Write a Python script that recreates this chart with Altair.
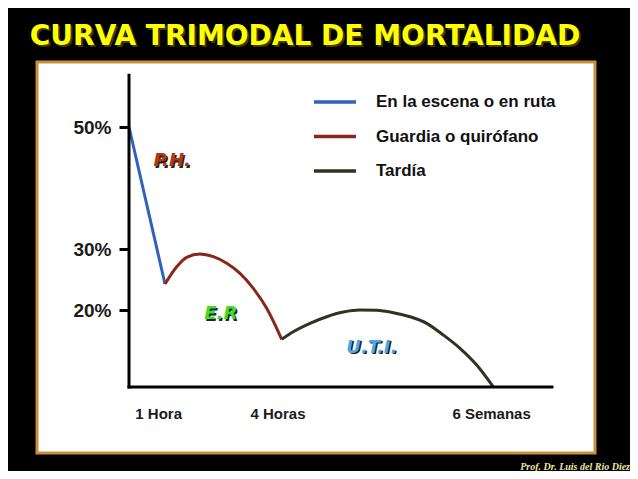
import altair as alt
import pandas as pd

TITLE = "CURVA TRIMODAL DE MORTALIDAD"
FOOTER = "Prof. Dr. Luis del Rio Diez"

SERIES = ["En la escena o en ruta", "Guardia o quirófano", "Tardía"]
SERIES_COLORS = ["#2f62b8", "#86281a", "#2f3320"]

# curve points: x in time units (axis runs 0..100), y in % mortality
BLUE_X = [0.0, 8.51]
BLUE_Y = [50.0, 24.26]
RED_X = [8.51, 11.28, 13.64, 16.78, 19.93, 23.10, 26.24, 29.39, 32.55, 36.10]
RED_Y = [24.26, 27.10, 28.64, 29.18, 28.74, 27.66, 26.02, 23.56, 20.28, 15.20]
DARK_X = [36.10, 38.84, 42.79, 46.74, 50.66, 54.61, 58.56, 62.48, 66.43,
          70.38, 74.30, 78.25, 82.20, 86.12]
DARK_Y = [15.20, 16.44, 17.82, 18.90, 19.67, 20.00, 19.95, 19.56, 18.90,
          17.82, 15.90, 13.72, 10.98, 7.40]

Y_TICKS = [20, 30, 50]
X_TICKS = [6.9, 35.1, 85.6]
X_TICK_LABELS = ["1 Hora", "4 Horas", "6 Semanas"]

PHASES = ["P.H.", "E.R", "U.T.I."]
PHASE_X = [10.2, 21.7, 57.4]
PHASE_Y = [44.4, 19.3, 13.8]
PHASE_COLORS = ["#b5360f", "#3fdc2a", "#4ba6e6"]

AXIS_X = [0, 100]
AXIS_Y = [7.40, 58.5]
X_DOMAIN = [-21.75, 110.17]
Y_DOMAIN = [-3.44, 60.66]

SANS = "Liberation Sans"

rows = []
for name, xs_, ys_ in zip(SERIES, [BLUE_X, RED_X, DARK_X], [BLUE_Y, RED_Y, DARK_Y]):
    for i, (a, b) in enumerate(zip(xs_, ys_)):
        rows.append({"serie": name, "x": a, "y": b, "o": i})
curve_df = pd.DataFrame(rows)

xs = alt.Scale(domain=X_DOMAIN, nice=False, zero=False)
ys = alt.Scale(domain=Y_DOMAIN, nice=False, zero=False)

x_expr = "{}[indexof({}, datum.value)]".format(
    "[" + ",".join("'" + t + "'" for t in X_TICK_LABELS) + "]",
    "[" + ",".join(str(v) for v in X_TICKS) + "]",
)

x_axis = alt.Axis(
    values=X_TICKS, labelExpr=x_expr, domain=False, ticks=False, grid=False,
    title=None, offset=-66, labelPadding=19, labelFont=SANS, labelFontSize=15,
    labelFontWeight="bold", labelColor="#1a1a1a", labelOverlap=False,
    labelFlush=False, labelBound=False)
y_axis = alt.Axis(
    values=Y_TICKS, labelExpr="datum.value + '%'", domain=False, ticks=True,
    tickSize=10, tickWidth=3, tickColor="black", grid=False, title=None,
    offset=-92, labelPadding=8, labelFont=SANS, labelFontSize=19,
    labelFontWeight="bold", labelColor="#1a1a1a", labelOverlap=False)

X = lambda: alt.X("x:Q", scale=xs, axis=x_axis)
Y = lambda: alt.Y("y:Q", scale=ys, axis=y_axis)

lines = alt.Chart(curve_df).mark_line(strokeWidth=3, interpolate="monotone").encode(
    x=X(), y=Y(),
    color=alt.Color("serie:N", scale=alt.Scale(domain=SERIES, range=SERIES_COLORS),
                    legend=alt.Legend(
                        title=None, orient="none", legendX=275, legendY=30,
                        direction="vertical", symbolType="stroke", symbolSize=1764,
                        symbolStrokeWidth=3.5, clipHeight=20, rowPadding=14.5,
                        labelOffset=18, labelFont=SANS, labelFontSize=17,
                        labelFontWeight="bold", labelColor="#111111",
                        labelLimit=300, padding=0)),
    order="o:Q",
)

yline = alt.Chart(pd.DataFrame({"x": [AXIS_X[0]], "y": [AXIS_Y[0]], "y2": [AXIS_Y[1]]})).mark_rule(
    strokeWidth=3, color="black", strokeCap="square").encode(x=X(), y=Y(), y2="y2:Q")
xline = alt.Chart(pd.DataFrame({"x": [AXIS_X[0]], "x2": [AXIS_X[1]], "y": [AXIS_Y[0]]})).mark_rule(
    strokeWidth=3, color="black", strokeCap="square").encode(x=X(), x2="x2:Q", y=Y())

phase_df = pd.DataFrame({"label": PHASES, "x": PHASE_X, "y": PHASE_Y, "c": PHASE_COLORS})
phase_shadow = alt.Chart(phase_df).mark_text(
    font="DejaVu Sans", fontStyle="italic", fontWeight="bold", fontSize=18,
    dx=1.5, dy=1.5, color="#222222").encode(x=X(), y=Y(), text="label:N")
phase_text = alt.Chart(phase_df).mark_text(
    font="DejaVu Sans", fontStyle="italic", fontWeight="bold", fontSize=18).encode(
    x=X(), y=Y(), text="label:N", fill=alt.Fill("c:N", scale=None, legend=None))

title_df = pd.DataFrame({"t": [TITLE]})
title_shadow = alt.Chart(title_df).mark_text(
    font="DejaVu Sans", fontWeight="bold", fontSize=28, align="center",
    baseline="alphabetic", color="#3d3900", dx=2, dy=2).encode(
    x=alt.value(268), y=alt.value(-17), text="t:N")
title_text = alt.Chart(title_df).mark_text(
    font="DejaVu Sans", fontWeight="bold", fontSize=28, align="center",
    baseline="alphabetic", color="#ffff00").encode(
    x=alt.value(268), y=alt.value(-17), text="t:N")

footer = alt.Chart(pd.DataFrame({"t": [FOOTER]})).mark_text(
    font="Liberation Serif", fontStyle="italic", fontWeight="bold", fontSize=10,
    align="right", baseline="alphabetic", color="#ebe8a8").encode(
    x=alt.value(593), y=alt.value(408), text="t:N")

chart = alt.layer(
    lines, yline, xline, phase_shadow, phase_text, title_shadow, title_text, footer
).properties(
    width=558, height=391,
    padding={"left": 29, "top": 54, "right": 35, "bottom": 18},
    autosize="none", background="black",
).configure_view(fill="white", stroke="#c8903c", strokeWidth=3)

chart.save("out.html", embed_options={"renderer": "svg", "actions": False})
